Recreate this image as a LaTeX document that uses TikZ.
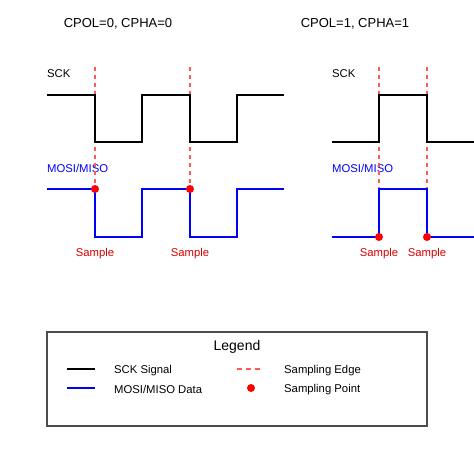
\documentclass[tikz,border=0pt]{standalone}
\usepackage{fontspec}
\setmainfont{Liberation Sans}
\begin{document}
\begin{tikzpicture}[x=1pt,y=-1pt,
  lbl/.style={inner sep=0pt,yshift=-1.5pt,font=\fontsize{11.3}{14}\selectfont},
  ttl/.style={inner sep=0pt,yshift=-1pt,font=\fontsize{13}{15}\selectfont},
  sck/.style={draw=black,line width=2pt},
  data/.style={draw=blue,line width=2pt},
  edge/.style={draw=red!65!white,line width=1.2pt,dash pattern=on 4pt off 4pt},
  spt/.style={circle,fill=red,inner sep=0pt,minimum size=8pt},
  smp/.style={lbl,text=red!85!black}]
\useasboundingbox (0,0) rectangle (474,474);
\fill[white] (0,0) rectangle (474,474);
% titles
\node[ttl] (t1) at (118,23) {CPOL=0, CPHA=0};
\node[ttl] (t2) at (355,23) {CPOL=1, CPHA=1};
% left panel
\node[lbl,anchor=west] (sck1) at (47,72) {SCK};
\node[lbl,anchor=west,text=blue] (mo1) at (47,167) {MOSI/MISO};
\coordinate (e1t) at (95,67); \coordinate (e1b) at (95,237);
\coordinate (e2t) at (190,67); \coordinate (e2b) at (190,237);
\draw[edge] (e1t) -- (e1b);
\draw[edge] (e2t) -- (e2b);
\draw[sck] (47,95) -- (95,95) -- (95,142) -- (142,142) -- (142,95) -- (190,95) -- (190,142) -- (237,142) -- (237,95) -- (284,95);
\draw[data] (47,189) -- (95,189) -- (95,237) -- (142,237) -- (142,189) -- (190,189) -- (190,237) -- (237,237) -- (237,189) -- (284,189);
\node[spt] (p1) at (95,189) {};
\node[spt] (p2) at (190,189) {};
\node[smp] (s1) at (95,252) {Sample};
\node[smp] (s2) at (190,252) {Sample};
% right panel
\node[lbl,anchor=west] (sck2) at (332,72) {SCK};
\node[lbl,anchor=west,text=blue] (mo2) at (332,167) {MOSI/MISO};
\coordinate (e3t) at (379,67); \coordinate (e3b) at (379,237);
\coordinate (e4t) at (427,67); \coordinate (e4b) at (427,237);
\draw[edge] (e3t) -- (e3b);
\draw[edge] (e4t) -- (e4b);
\draw[sck] (332,142) -- (379,142) -- (379,95) -- (427,95) -- (427,142) -- (474,142);
\draw[data] (332,237) -- (379,237) -- (379,189) -- (427,189) -- (427,237) -- (474,237);
\node[spt] (p3) at (379,237) {};
\node[spt] (p4) at (427,237) {};
\node[smp] (s3) at (379,252) {Sample};
\node[smp] (s4) at (427,252) {Sample};
% legend
\node[draw=black!70,line width=1.2pt,minimum width=380pt,minimum height=94pt,inner sep=0pt] (leg) at (237,379) {};
\node[inner sep=0pt,yshift=-1pt,font=\fontsize{14}{16}\selectfont] (legt) at (237,346) {Legend};
\coordinate (l1a) at (67,369); \coordinate (l1b) at (95,369);
\coordinate (l2a) at (67,388); \coordinate (l2b) at (95,388);
\coordinate (l3a) at (237,369); \coordinate (l3b) at (263,369);
\draw[sck] (l1a) -- (l1b);
\draw[data] (l2a) -- (l2b);
\draw[edge,dash pattern=on 5pt off 4pt] (l3a) -- (l3b);
\node[spt] (lp) at (251,388) {};
\node[lbl,anchor=west] (lt1) at (114,369) {SCK Signal};
\node[lbl,anchor=west] (lt2) at (114,388) {MOSI/MISO Data};
\node[lbl,anchor=west] (lt3) at (284,369) {Sampling Edge};
\node[lbl,anchor=west] (lt4) at (284,388) {Sampling Point};
\end{tikzpicture}
\end{document}
